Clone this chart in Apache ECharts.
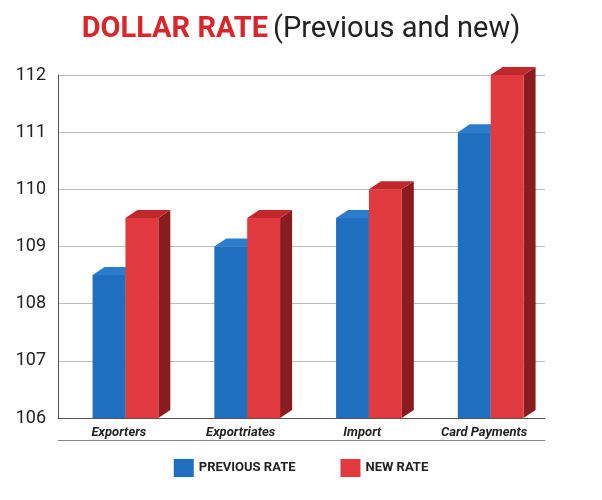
<!DOCTYPE html>
<html>
<head>
<meta charset="utf-8">
<script src="https://cdn.jsdelivr.net/npm/echarts@6/dist/echarts.min.js"></script>
<style>html,body{margin:0;padding:0;background:#fff}#chart{width:602px;height:500px}</style>
</head>
<body>
<div id="chart"></div>
<script>
var categories = ['Exporters', 'Exportriates', 'Import', 'Card Payments'];
var previousRate = [108.5, 109, 109.5, 111];
var newRate = [109.5, 109.5, 110, 112];
var yTicks = [106, 107, 108, 109, 110, 111, 112];

// 3D bar: front face, side face and top face
function bar3d(front, side, top, shift) {
    return function (params, api) {
        var cat = api.value(0);
        var val = api.value(1);
        var bw = api.size([1, 0])[0];
        var w = bw * 0.27;
        var c = api.coord([cat, val]);
        var base = api.coord([cat, 106]);
        var x0 = c[0] - w * 0.8 + shift * w;
        var x1 = x0 + w;
        var dx = 12, dy = -8;
        return {
            type: 'group',
            children: [
                { type: 'polygon', shape: { points: [[x1, c[1]], [x1 + dx, c[1] + dy], [x1 + dx, base[1] + dy], [x1, base[1]]] }, style: { fill: side } },
                { type: 'polygon', shape: { points: [[x0, c[1]], [x0 + dx, c[1] + dy], [x1 + dx, c[1] + dy], [x1, c[1]]] }, style: { fill: top } },
                { type: 'rect', shape: { x: x0, y: c[1], width: w, height: base[1] - c[1] }, style: { fill: front } }
            ]
        };
    };
}

var chart = echarts.init(document.getElementById('chart'));
chart.setOption({
    title: {
        text: '{a|DOLLAR RATE} {b|(Previous and new)}',
        left: 'center', top: 10,
        textStyle: {
            rich: {
                a: { fontFamily: 'Roboto', fontWeight: 'bold', fontSize: 29, color: '#d9262b' },
                b: { fontFamily: 'Roboto', fontWeight: 'normal', fontSize: 29, color: '#222' }
            }
        }
    },
    legend: {
        bottom: 18, left: 'center', itemGap: 45, itemWidth: 20, itemHeight: 18,
        textStyle: { fontFamily: 'Roboto', fontWeight: 'bold', fontSize: 13, color: '#222' },
        data: [{ name: 'PREVIOUS RATE', icon: 'rect' }, { name: 'NEW RATE', icon: 'rect' }]
    },
    grid: { left: 58, right: 57, top: 75, bottom: 82 },
    xAxis: [{
        type: 'category', data: categories,
        axisLine: { lineStyle: { color: '#555' } },
        axisTick: { length: 22, lineStyle: { color: '#888' } },
        axisLabel: { fontFamily: 'Roboto', fontStyle: 'italic', fontWeight: 'bold', fontSize: 13, color: '#222', margin: 8 }
    }, {
        type: 'category', data: categories, position: 'bottom', offset: 22,
        axisLine: { lineStyle: { color: '#888' } },
        axisTick: { show: false }, axisLabel: { show: false }
    }],
    yAxis: {
        type: 'value', min: yTicks[0], max: yTicks[yTicks.length - 1], interval: 1,
        axisLine: { show: true, lineStyle: { color: '#555' } },
        axisLabel: { fontFamily: 'Roboto', fontSize: 18, color: '#222', margin: 12 },
        splitLine: { lineStyle: { color: '#bbb' } }
    },
    series: [{
        name: 'PREVIOUS RATE', type: 'custom', itemStyle: { color: '#1f6fc0' },
        renderItem: bar3d('#1f6fc0', '#14497f', '#2b7ccb', 0),
        data: categories.map(function (c, i) { return [i, previousRate[i]]; })
    }, {
        name: 'NEW RATE', type: 'custom', itemStyle: { color: '#e03a3e' },
        renderItem: bar3d('#e03a3e', '#8a1c1f', '#c0282c', 1),
        data: categories.map(function (c, i) { return [i, newRate[i]]; })
    }]
});
</script>
</body>
</html>
